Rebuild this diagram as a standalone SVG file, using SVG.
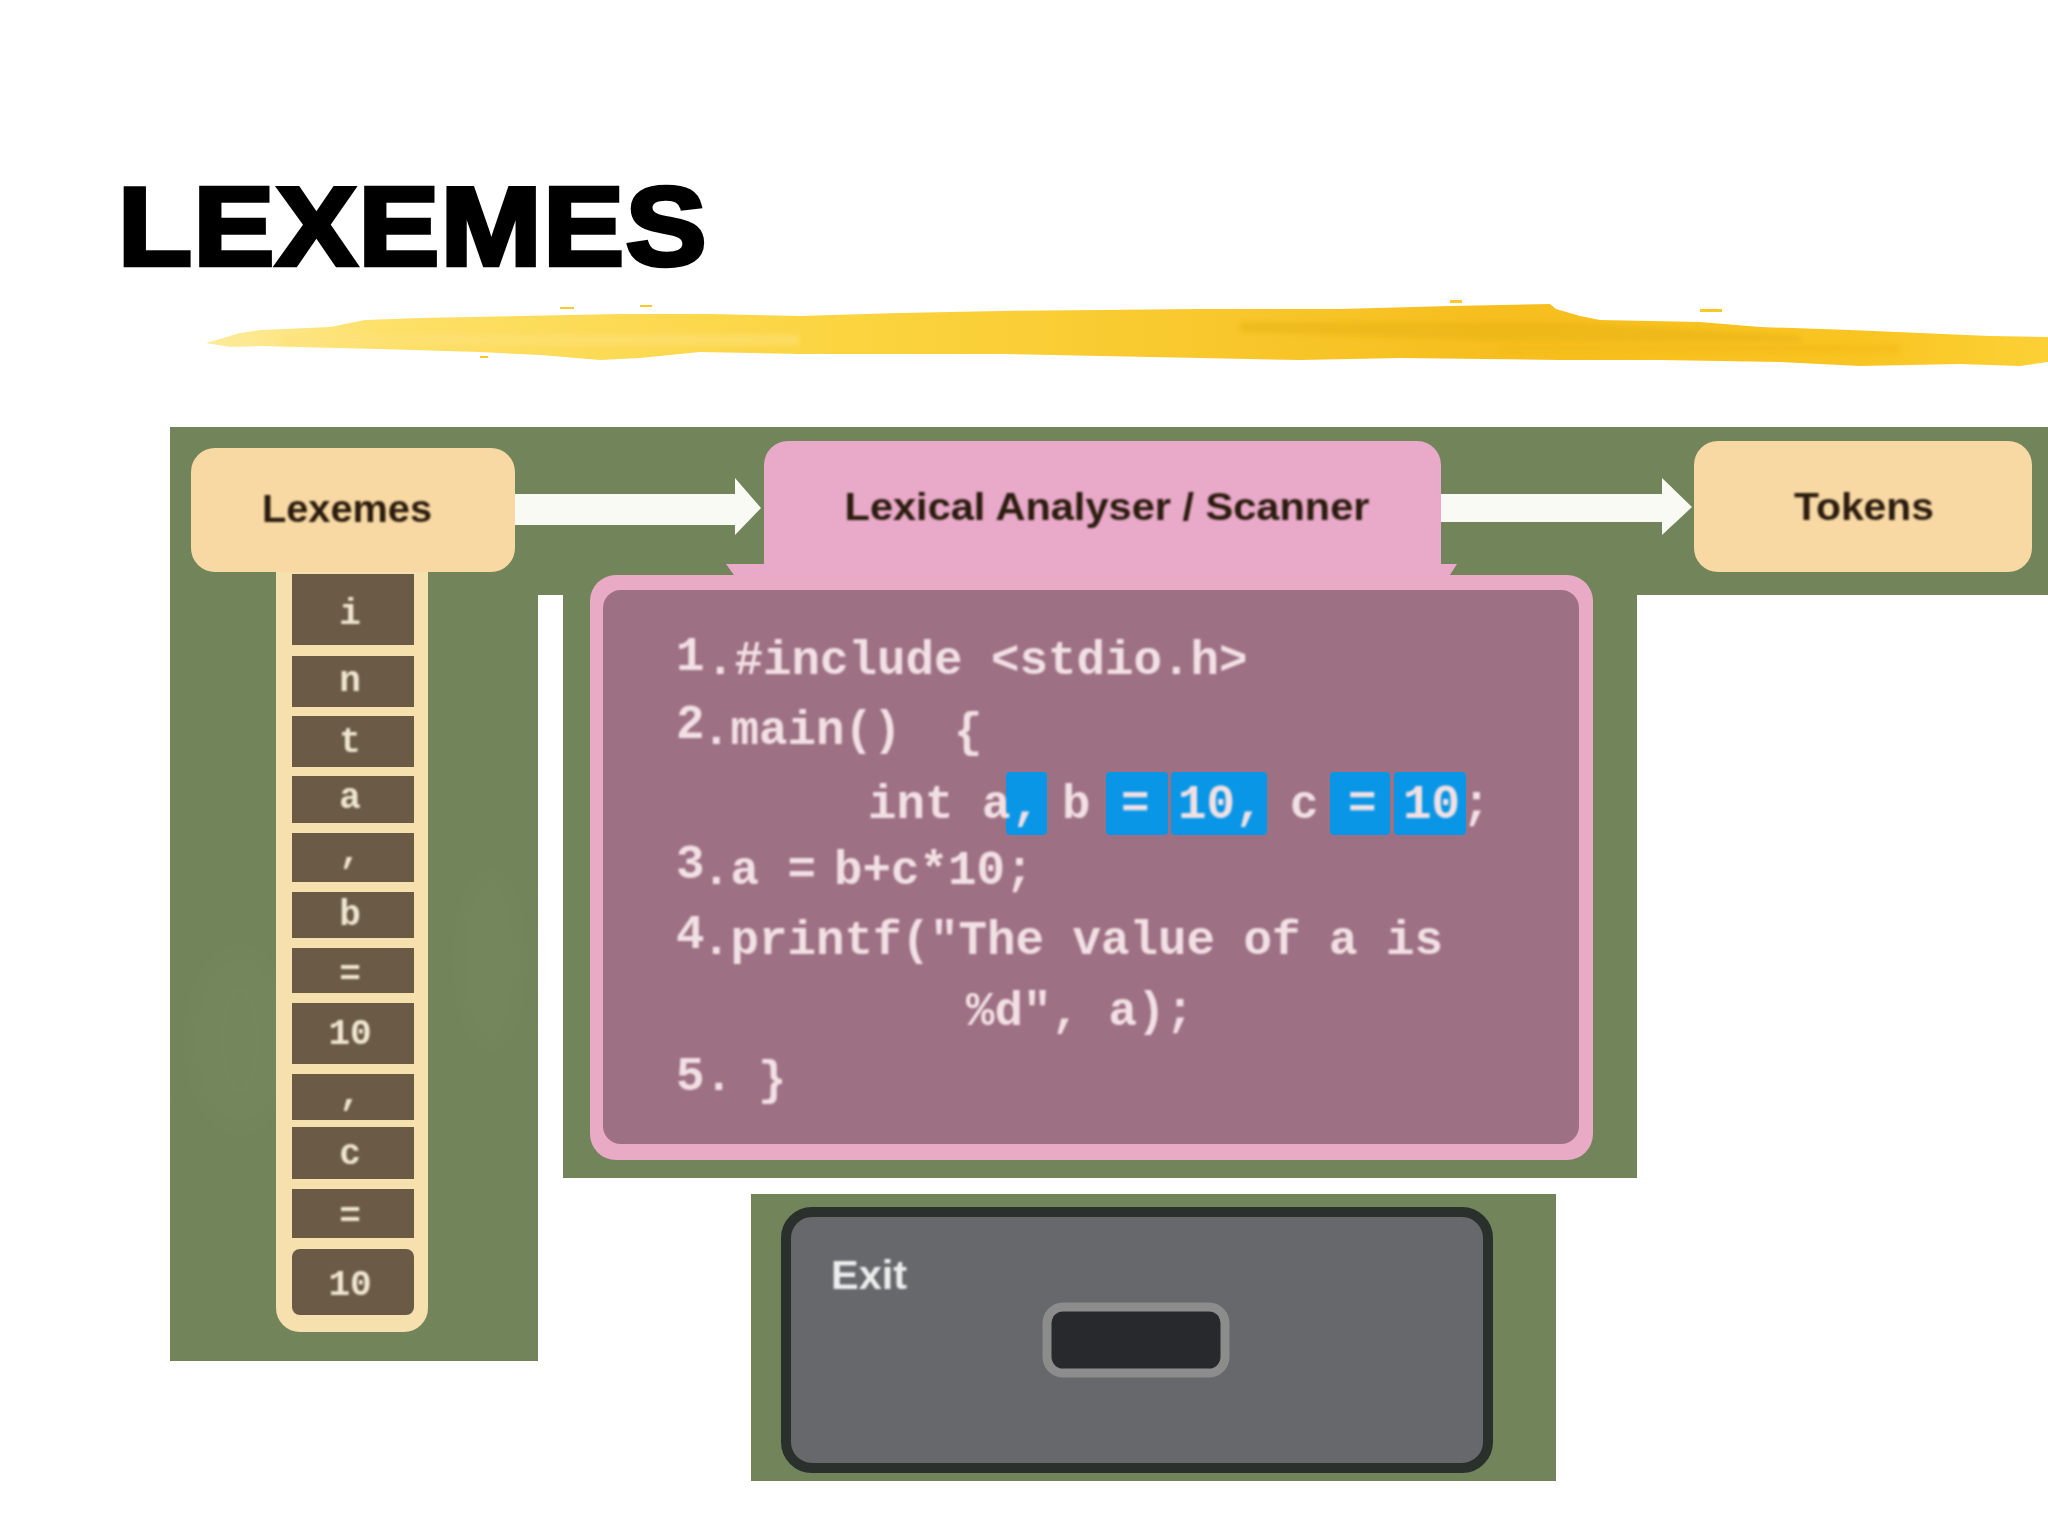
<svg xmlns="http://www.w3.org/2000/svg" width="2048" height="1536" viewBox="0 0 2048 1536">
<style>
.bg{fill:#72845a}
.lab{font-family:"Liberation Sans",Arial,sans-serif;font-weight:700;fill:#2b1c10;font-size:39px;text-anchor:middle}
.code{font-family:"Liberation Mono","Courier New",monospace;font-weight:700;fill:#f1e0e4;font-size:47.5px}
.cell{fill:#6b5a45}
.ct{font-family:"Liberation Mono","Courier New",monospace;font-weight:700;fill:#efe6d2;font-size:36px;text-anchor:middle}
.hl{fill:#0a96e6}
.arrow{fill:#f8faf3}
.soft{filter:url(#b)}
</style>
<defs>
<filter id="b" x="-5%" y="-20%" width="110%" height="140%"><feGaussianBlur stdDeviation="0.9"/></filter>
<filter id="bb" x="-30%" y="-30%" width="160%" height="160%"><feGaussianBlur stdDeviation="14"/></filter>
<filter id="s" x="-2%" y="-50%" width="104%" height="200%"><feGaussianBlur stdDeviation="2"/></filter>
<linearGradient id="brush" x1="0" x2="1" y1="0" y2="0">
<stop offset="0" stop-color="#fdeb9c"/><stop offset="0.1" stop-color="#fde068"/><stop offset="0.35" stop-color="#fbd43f"/><stop offset="0.7" stop-color="#f6be1e"/><stop offset="0.9" stop-color="#f9c522"/><stop offset="1" stop-color="#fcd136"/>
</linearGradient>
</defs>
<rect width="2048" height="1536" fill="#fff"/>
<g id="title"><text transform="translate(118 265) scale(1.08 1)" x="0" y="0" font-family="'Liberation Sans',Arial,sans-serif" font-weight="700" font-size="112" letter-spacing="1.6" fill="#000" stroke="#000" stroke-width="4.5">LEXEMES</text></g>
<g id="brush-stroke">
<path fill="url(#brush)" d="M206 343L240 333L262 330L330 327L365 320L420 318L520 316L620 314L710 314L800 316L900 313L1000 311L1100 310L1200 309L1340 309L1450 306L1550 304L1556 309L1580 316L1600 320L1700 322L1760 327L1850 330L1920 333L1990 336L2048 337L2048 362L2020 366L1960 364L1860 366L1780 362L1660 360L1560 360L1400 358L1300 360L1200 358L1100 356L1000 354L900 354L800 354L700 352L640 358L600 360L540 355L480 352L380 349L260 346L230 347Z"/>
<g filter="url(#s)"><path fill="#e8b213" opacity="0.55" d="M1240 322H1560L1800 336V342L1500 340L1240 332Z"/><path fill="#f3b912" opacity="0.5" d="M1500 344H1900V354L1500 352Z"/><path fill="#fee27a" opacity="0.5" d="M280 334H800V346H280Z"/></g>
<g fill="#f9c92c"><rect x="560" y="307" width="14" height="2"/><rect x="640" y="305" width="12" height="2"/><rect x="1700" y="309" width="22" height="3"/><rect x="1450" y="300" width="12" height="3"/><rect x="480" y="356" width="8" height="2"/></g>
</g>
<g id="background">
<path class="bg" d="M170 427H2048V595H1637V1178H563V595H538V1361H170Z"/>
<rect class="bg" x="751" y="1194" width="805" height="287"/>
<g fill="#7f9163" opacity="0.2" filter="url(#bb)"><ellipse cx="240" cy="1040" rx="50" ry="90"/><ellipse cx="490" cy="960" rx="30" ry="90"/></g>
</g>
<g id="connectors">
<path class="arrow" d="M515 494H735V478L761 508L735 535V525H515Z"/>
<path class="arrow" d="M1441 494H1662V478L1692 507L1662 535V522H1441Z"/>
</g>
<g id="lexemes">
<rect x="191" y="448" width="324" height="124" rx="24" fill="#f8d9a4"/>
<text class="lab soft" x="347" y="522" textLength="170" lengthAdjust="spacingAndGlyphs">Lexemes</text>
</g>
<g id="lexeme-column">
<path d="M276 572H428V1308a24 24 0 0 1-24 24H300a24 24 0 0 1-24-24Z" fill="#f6e0ad"/>
<rect class="cell" x="292" y="574" width="122" height="71"/>
<rect class="cell" x="292" y="656" width="122" height="51"/>
<rect class="cell" x="292" y="716" width="122" height="51"/>
<rect class="cell" x="292" y="776" width="122" height="47"/>
<rect class="cell" x="292" y="833" width="122" height="49"/>
<rect class="cell" x="292" y="892" width="122" height="46"/>
<rect class="cell" x="292" y="948" width="122" height="45"/>
<rect class="cell" x="292" y="1003" width="122" height="61"/>
<rect class="cell" x="292" y="1074" width="122" height="46"/>
<rect class="cell" x="292" y="1127" width="122" height="52"/>
<rect class="cell" x="292" y="1189" width="122" height="49"/>
<rect class="cell" x="292" y="1249" width="122" height="66" rx="8"/>
<g class="soft">
<text class="ct" x="350" y="624">i</text>
<text class="ct" x="350" y="691">n</text>
<text class="ct" x="350" y="752">t</text>
<text class="ct" x="350" y="808">a</text>
<text class="ct" x="350" y="862">,</text>
<text class="ct" x="350" y="925">b</text>
<text class="ct" x="350" y="985">=</text>
<text class="ct" x="350" y="1044">10</text>
<text class="ct" x="350" y="1104">,</text>
<text class="ct" x="350" y="1164">c</text>
<text class="ct" x="350" y="1227">=</text>
<text class="ct" x="350" y="1295">10</text>
</g>
</g>
<g id="lexical-analyser">
<path d="M726 564H764V465a24 24 0 0 1 24-24H1417a24 24 0 0 1 24 24V564H1457L1448 578H736Z" fill="#e9a9c9"/>
<text class="lab soft" x="1107" y="520" textLength="525" lengthAdjust="spacingAndGlyphs">Lexical Analyser / Scanner</text>
</g>
<g id="code-panel">
<rect x="590" y="575" width="1003" height="585" rx="26" fill="#e9aac6"/>
<rect x="603" y="590" width="976" height="554" rx="18" fill="#9e7083"/>
<rect class="hl" x="1006" y="772" width="41" height="63" rx="4"/>
<rect class="hl" x="1106" y="772" width="62" height="63" rx="4"/>
<rect class="hl" x="1171" y="772" width="96" height="63" rx="4"/>
<rect class="hl" x="1330" y="772" width="60" height="63" rx="4"/>
<rect class="hl" x="1394" y="772" width="72" height="63" rx="4"/>
<g class="soft">
<text class="code" x="676" y="670">1</text><text class="code" x="706" y="674">.#include &lt;stdio.h&gt;</text>
<text class="code" x="676" y="738">2</text><text class="code" x="702" y="744">.main()</text><text class="code" x="954" y="746">{</text>
<text class="code" x="868" y="818">int a</text><text class="code" x="1012" y="818">,</text><text class="code" x="1062" y="818">b</text><text class="code" x="1121" y="818">=</text><text class="code" x="1178" y="818">10,</text><text class="code" x="1290" y="818">c</text><text class="code" x="1348" y="818">=</text><text class="code" x="1403" y="818">10</text><text class="code" x="1462" y="818">;</text>
<text class="code" x="676" y="878">3</text><text class="code" x="702" y="884">.a =</text><text class="code" x="834" y="884">b+c*10;</text>
<text class="code" x="676" y="948">4</text><text class="code" x="702" y="954">.printf("The value of a is</text>
<text class="code" x="966" y="1025">%d", a);</text>
<text class="code" x="676" y="1090">5.</text><text class="code" x="758" y="1094">}</text>
</g>
</g>
<g id="tokens">
<rect x="1694" y="441" width="338" height="131" rx="24" fill="#f8d9a4"/>
<text class="lab soft" x="1864" y="520" textLength="140" lengthAdjust="spacingAndGlyphs">Tokens</text>
</g>
<g id="exit-panel">
<rect x="786" y="1212" width="702" height="256" rx="26" fill="#67686c" stroke="#2a302c" stroke-width="10"/>
<text class="soft" x="831" y="1289" font-family="'Liberation Sans',Arial,sans-serif" font-weight="700" font-size="40" fill="#eceded" textLength="76" lengthAdjust="spacingAndGlyphs">Exit</text>
<rect x="1047" y="1307" width="178" height="66" rx="16" fill="#28292c" stroke="#8c8c8c" stroke-width="9"/>
</g>
</svg>
